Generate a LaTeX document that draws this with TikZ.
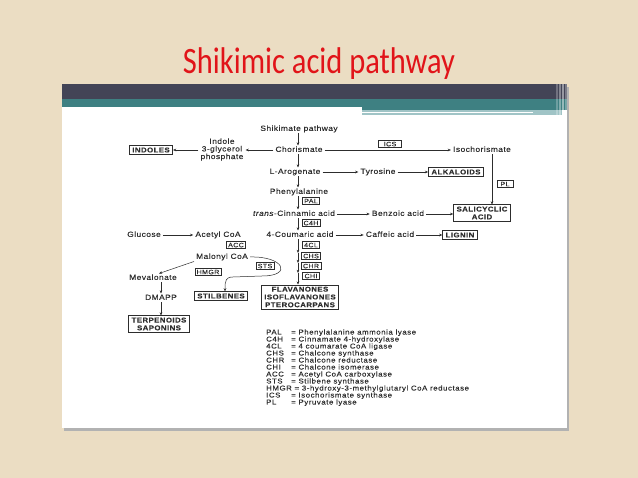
\documentclass[tikz,border=0pt]{standalone}
\usepackage{fontspec}
\setmainfont{Liberation Sans}
\newfontfamily\lblfont{Liberation Sans}[FakeStretch=1.12, LetterSpace=6, FakeBold=0.05]
\newfontfamily\lgdfont{Liberation Sans}[FakeStretch=1.12, LetterSpace=8, FakeBold=0.05]
\newfontfamily\titlefont{Carlito}
\usetikzlibrary{arrows.meta,calc}
\definecolor{bg}{RGB}{235,221,195}
\definecolor{titlered}{RGB}{225,20,25}
\definecolor{darkbar}{RGB}{67,68,86}
\definecolor{teal}{RGB}{62,128,130}
\definecolor{lteal}{RGB}{160,196,198}
\definecolor{ink}{RGB}{45,45,45}
\begin{document}
\begin{tikzpicture}[x=1pt,y=-1pt,
  lbl/.style={font=\lblfont\fontsize{7.5}{7.6}\selectfont, text=ink, inner xsep=2pt, inner ysep=1pt, text height=5.2pt, text depth=1.4pt},
  mlbl/.style={font=\lblfont\fontsize{7.5}{7.6}\selectfont, text=ink, inner xsep=2pt, inner ysep=1pt, align=center},
  ebox/.style={draw=ink, line width=0.5pt, text=ink, font=\lblfont\fontsize{6.3}{6.3}\selectfont, inner xsep=1.8pt, inner ysep=1.2pt, minimum width=16pt, text height=4.5pt, text depth=0pt},
  bbox/.style={draw=ink, line width=0.65pt, text=ink, font=\lblfont\fontsize{7}{7.8}\selectfont\bfseries, inner xsep=3pt, inner ysep=1.8pt, align=center},
  arr/.style={-{Stealth[length=3.2pt,width=2.6pt]}, line width=0.5pt, draw=ink},
  lgd/.style={font=\lgdfont\fontsize{7}{7}\selectfont, text=ink, anchor=base west, inner sep=0pt}
]
\useasboundingbox (0,0) rectangle (638,478);
\fill[bg] (0,0) rectangle (638,478);
% title
\node[text=titlered, anchor=base, inner sep=0pt] (title) at (319,74)
  {\scalebox{1}[1.22]{\titlefont\fontsize{30.5}{31}\selectfont Shikimic acid pathway}};
% panel
\fill[black!30] (64,87) rectangle (569,431);
\fill[white] (62,84) rectangle (567,428);
\fill[darkbar] (62,84) rectangle (567,99);
\fill[teal] (62,99) rectangle (567,107);
\fill[teal] (362,107) rectangle (567,110);
\fill[lteal] (362,110) rectangle (562,115);
\draw[white, line width=0.8pt] (362,112.5) -- (533,112.5);
\foreach \xx/\op in {556/0.25,559/0.35,562/0.45,565/0.3}{
  \fill[white, opacity=\op] (\xx,84) rectangle ($(\xx,116)+(1.5,0)$);
}
% nodes
\node[lbl] (shik) at (299,129) {Shikimate pathway};
\node[lbl] (chor) at (299,150) {Chorismate};
\node[mlbl] (indole) at (222,149.5) {Indole\\3-glycerol\\phosphate};
\node[bbox] (indoles) at (151,150) {INDOLES};
\node[lbl] (isoch) at (482,150) {Isochorismate};
\node[ebox, minimum width=23pt] (ics) at (390,144) {ICS};
\node[lbl] (aro) at (295,172) {L-Arogenate};
\node[lbl] (tyr) at (378,172) {Tyrosine};
\node[bbox] (alk) at (456,172) {ALKALOIDS};
\node[ebox] (pl) at (505,184) {PL};
\node[lbl] (phe) at (299,192) {Phenylalanine};
\node[ebox] (pal) at (311,201) {PAL};
\node[lbl] (cin) at (294,214) {\textit{trans}-Cinnamic acid};
\node[lbl] (benz) at (398,214) {Benzoic acid};
\node[bbox] (sal) at (482,213) {SALICYCLIC\\ACID};
\node[ebox] (c4h) at (311,223) {C4H};
\node[lbl] (glu) at (144,235) {Glucose};
\node[lbl] (acoa) at (218,235) {Acetyl CoA};
\node[lbl] (cou) at (300,235) {4-Coumaric acid};
\node[lbl] (caf) at (390,235) {Caffeic acid};
\node[bbox] (lig) at (460,235) {LIGNIN};
\node[ebox] (acc) at (236,245) {ACC};
\node[ebox] (fourcl) at (311,245) {4CL};
\node[lbl] (mal) at (222,257) {Malonyl CoA};
\node[ebox] (chs) at (311,256) {CHS};
\node[ebox] (sts) at (265,266) {STS};
\node[ebox] (chr) at (311,266) {CHR};
\node[ebox] (hmgr) at (208,272) {HMGR};
\node[ebox] (chi) at (311,276) {CHI};
\node[lbl] (mev) at (153,278) {Mevalonate};
\node[lbl] (dmapp) at (161,298) {DMAPP};
\node[bbox] (stil) at (221,296) {STILBENES};
\node[bbox] (flav) at (300,297) {FLAVANONES\\ISOFLAVANONES\\PTEROCARPANS};
\node[bbox] (terp) at (159,324) {TERPENOIDS\\SAPONINS};
% connectors
\coordinate (vx) at (298,0);
\draw[arr] (shik.south -| vx) -- (chor.north -| vx);
\draw[arr] (chor.west) -- (chor.west -| indole.east);
\draw[arr] (indole.west |- indoles) -- (indoles.east);
\draw[arr] (chor.east) -- (isoch.west);
\draw[arr] (chor.south -| vx) -- (aro.north -| vx);
\draw[arr] (aro.east) -- (tyr.west);
\draw[arr] (tyr.east) -- (alk.west);
\coordinate (vr) at (492,0);
\draw[arr] (isoch.south -| vr) -- (sal.north -| vr);
\draw[arr] (aro.south -| vx) -- (phe.north -| vx);
\draw[arr] (phe.south -| vx) -- (cin.north -| vx);
\draw[arr] (cin.east) -- (benz.west);
\draw[arr] (benz.east) -- (benz.east -| sal.west);
\draw[arr] (cin.south -| vx) -- (cou.north -| vx);
\draw[arr] (glu.east) -- (acoa.west);
\draw[arr] (cou.east) -- (caf.west);
\draw[arr] (caf.east) -- (lig.west);
\coordinate (m1) at (298,253);
\coordinate (m2) at (298,263);
\coordinate (m3) at (298,273);
\draw[arr] (cou.south -| vx) -- (m1);
\draw[arr] (m1) -- (m2);
\draw[arr] (m2) -- (m3);
\draw[arr] (m3) -- (flav.north -| vx);
\draw[arr] (mal.south west) -- ([xshift=6pt]mev.north);
\coordinate (sv) at (225,0);
\draw[arr] (mal.east) .. controls (284,256) and (293,276) .. (262,276)
  -- (233,277) .. controls (226,277) and (225,280) .. (stil.north -| sv);
\draw[arr] (mev.south -| dmapp) -- (dmapp.north);
\draw[arr] (dmapp.south) -- (dmapp.south |- terp.north);
% legend
\foreach \i/\ab/\df in {0/PAL/Phenylalanine ammonia lyase,
  1/C4H/Cinnamate 4-hydroxylase,
  2/4CL/4 coumarate CoA ligase,
  3/CHS/Chalcone synthase,
  4/CHR/Chalcone reductase,
  5/CHI/Chalcone isomerase,
  6/ACC/Acetyl CoA carboxylase,
  7/STS/Stilbene synthase,
  9/ICS/Isochorismate synthase,
  10/PL/Pyruvate lyase}{
  \node[lgd] (ab\i) at (266,334.5+7*\i) {\ab};
  \node[lgd] (df\i) at (291,334.5+7*\i) {= \df};
}
\node[lgd] (ab8) at (266,390.5) {HMGR = 3-hydroxy-3-methylglutaryl CoA reductase};
\end{tikzpicture}
\end{document}
